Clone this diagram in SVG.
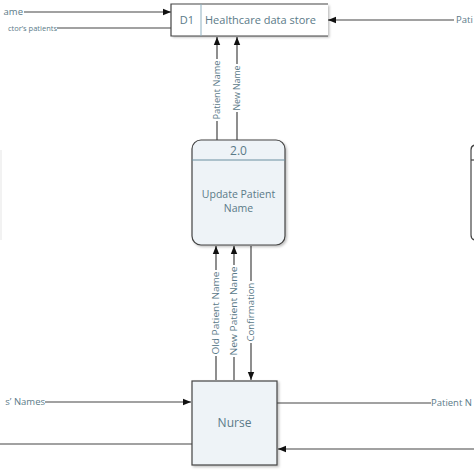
<svg xmlns="http://www.w3.org/2000/svg" width="474" height="474" viewBox="0 0 474 474">
<defs>
<marker id="ah" viewBox="0 0 10 10" refX="10" refY="5" markerWidth="8" markerHeight="8" markerUnits="userSpaceOnUse" orient="auto">
<path d="M0,1 L10,5 L0,9 z" fill="#111"/>
</marker>
<filter id="sh" x="-10%" y="-10%" width="130%" height="130%">
<feDropShadow dx="1.5" dy="1.5" stdDeviation="1" flood-color="#000" flood-opacity="0.25"/>
</filter>
</defs>
<style>
.ln{stroke:#444;stroke-width:1.2;fill:none}
.arr{marker-end:url(#ah)}
.t{font-family:"Segoe UI","Open Sans","DejaVu Sans",sans-serif;fill:#5b7a88}
.lbl{font-size:9.5px}
.bg{fill:#fff}
.node{fill:#eef3f7;stroke:#444;stroke-width:1.2}
</style>
<rect width="474" height="474" fill="#fff"/>
<g id="faint-left">
<rect x="-4" y="150" width="6" height="90" fill="#f2f2f2"/>
</g>
<g id="right-process">
<path d="M476,145 Q471,145 471,150 L471,235 Q471,240 476,240" class="ln" fill="#eef3f7"/>
<line x1="471" y1="160" x2="474" y2="160" class="ln"/>
</g>
<g id="connectors">
<line x1="24" y1="12" x2="171" y2="12" class="ln arr"/>
<line x1="57" y1="28" x2="171" y2="28" class="ln"/>
<line x1="454" y1="20" x2="328" y2="20" class="ln arr"/>
<line x1="217" y1="140" x2="217" y2="37" class="ln arr"/>
<line x1="237" y1="140" x2="237" y2="37" class="ln arr"/>
<line x1="216" y1="380" x2="216" y2="246" class="ln arr"/>
<line x1="234" y1="380" x2="234" y2="246" class="ln arr"/>
<line x1="251" y1="246" x2="251" y2="380" class="ln arr"/>
<line x1="45" y1="402" x2="191" y2="402" class="ln arr"/>
<line x1="0" y1="444" x2="192" y2="444" class="ln"/>
<line x1="277" y1="403" x2="431" y2="403" class="ln"/>
<line x1="474" y1="449" x2="278" y2="449" class="ln arr"/>
</g>
<g id="connector-labels">
<text class="t lbl" x="23" y="15" text-anchor="end">ame</text>
<text class="t" x="57" y="31" text-anchor="end" font-size="7.5">ctor’s patients</text>
<text class="t lbl" x="456" y="23">Pati</text>
<g transform="translate(217,90) rotate(-90)">
<rect class="bg" x="-31" y="-5" width="62" height="10"/>
<text class="t lbl" x="0" y="3.4" text-anchor="middle" textLength="59" lengthAdjust="spacingAndGlyphs">Patient Name</text>
</g>
<g transform="translate(237,88) rotate(-90)">
<rect class="bg" x="-24" y="-5" width="48" height="10"/>
<text class="t lbl" x="0" y="3.4" text-anchor="middle" textLength="45" lengthAdjust="spacingAndGlyphs">New Name</text>
</g>
<g transform="translate(216,313) rotate(-90)">
<rect class="bg" x="-43" y="-5" width="86" height="10"/>
<text class="t lbl" x="0" y="3.4" text-anchor="middle" textLength="83" lengthAdjust="spacingAndGlyphs">Old Patient Name</text>
</g>
<g transform="translate(234,311) rotate(-90)">
<rect class="bg" x="-46" y="-5" width="92" height="10"/>
<text class="t lbl" x="0" y="3.4" text-anchor="middle" textLength="89" lengthAdjust="spacingAndGlyphs">New Patient Name</text>
</g>
<g transform="translate(251,312) rotate(-90)">
<rect class="bg" x="-31" y="-5" width="62" height="10"/>
<text class="t lbl" x="0" y="3.4" text-anchor="middle" textLength="59" lengthAdjust="spacingAndGlyphs">Confirmation</text>
</g>
<text class="t lbl" x="45" y="405" text-anchor="end">s’ Names</text>
<text class="t lbl" x="431" y="406">Patient N</text>
</g>
<g id="D1">
<rect x="171" y="4" width="157" height="32" fill="#fff" stroke="none" filter="url(#sh)"/>
<path d="M328,4 L171,4 L171,36 L328,36" class="ln" stroke="#555"/>
<line x1="201" y1="4" x2="201" y2="36" stroke="#8fb0c0" stroke-width="1"/>
<text class="t" x="187" y="24" font-size="11" text-anchor="middle">D1</text>
<text class="t" x="205" y="24" font-size="11">Healthcare data store</text>
</g>
<g id="P2">
<rect x="192" y="140" width="93" height="105" rx="9" class="node" filter="url(#sh)"/>
<line x1="192" y1="160" x2="285" y2="160" stroke="#6a8fa0" stroke-width="1"/>
<text class="t" x="238.5" y="155" font-size="12" text-anchor="middle">2.0</text>
<text class="t" x="238.5" y="198" font-size="10.5" text-anchor="middle">Update Patient</text>
<text class="t" x="238.5" y="212" font-size="10.5" text-anchor="middle">Name</text>
</g>
<g id="Nurse">
<rect x="192" y="381" width="85" height="84" class="node" filter="url(#sh)"/>
<text class="t" x="234.5" y="427" font-size="12" text-anchor="middle">Nurse</text>
</g>
</svg>
